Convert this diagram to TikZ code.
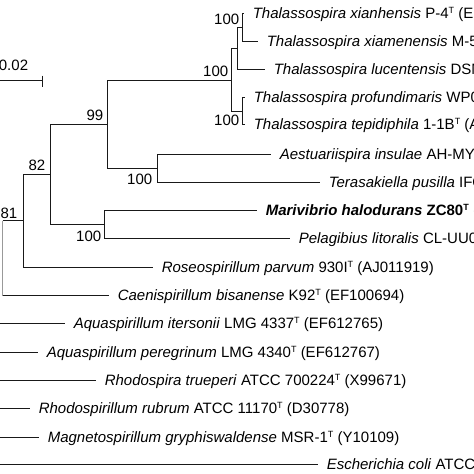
\documentclass[tikz,border=0pt]{standalone}
\usepackage{fontspec}
\setmainfont{Liberation Sans}
\newcommand\supT{\raisebox{5pt}{\fontsize{9}{9}\selectfont T}}
\begin{document}
\begin{tikzpicture}[x=1pt,y=-1pt,line width=1.6pt,
  br/.style={draw=black!90},
  rootbr/.style={draw=black!40},
  leaf/.style={anchor=base west,inner sep=0pt,xshift=8.5pt,yshift=-5.3pt,font=\fontsize{15}{18}\selectfont},
  bs/.style={anchor=base east,inner sep=0pt,font=\fontsize{15}{18}\selectfont}]
\useasboundingbox (0,0) rectangle (474,474);
\clip (0,0) rectangle (474,474);
% leaf ends
\coordinate (l1) at (243.5,13.5);
\coordinate (l2) at (257.5,41.5);
\coordinate (l3) at (264.5,69.5);
\coordinate (l4) at (244.5,97.5);
\coordinate (l5) at (244.5,124.5);
\coordinate (l6) at (270.5,154.5);
\coordinate (l7) at (319.5,182.5);
\coordinate (l8) at (256.5,210.5);
\coordinate (l9) at (289.5,238.5);
\coordinate (l10) at (152.5,267.5);
\coordinate (l11) at (108.5,295.5);
\coordinate (l12) at (64.5,323.5);
\coordinate (l13) at (37.5,352.5);
\coordinate (l14) at (95.5,380.5);
\coordinate (l15) at (29.5,408.5);
\coordinate (l16) at (38.5,437.5);
\coordinate (l17) at (317.5,464.5);
% internal nodes (x of vertical, y of stem)
\coordinate (A) at (242.5,27.5);
\coordinate (B) at (237.5,48.5);
\coordinate (D) at (242.5,111.5);
\coordinate (C) at (231.5,80.5);
\coordinate (E) at (157.5,168.5);
\coordinate (N99) at (107.5,124.5);
\coordinate (F) at (104.5,224.5);
\coordinate (N82) at (50.5,174.5);
\coordinate (N81) at (23.5,220.5);
\coordinate (G) at (2.5,257.5);
\coordinate (R) at (-20.5,400.5);
% brackets
\draw[br] (l1) -| (A) |- (l2);
\draw[br] (A) -| (B) |- (l3);
\draw[br] (l4) -| (D) |- (l5);
\draw[br] (B) -| (C) |- (D);
\draw[br] (l6) -| (E) |- (l7);
\draw[br] (C) -| (N99) |- (E);
\draw[br] (l8) -| (F) |- (l9);
\draw[br] (N99) -| (N82) |- (F);
\draw[br] (N82) -| (N81) |- (l10);
\draw[rootbr] (G |- N81) -- (G |- l11);
\draw[br] (G |- N81) -- (N81);
\draw[br] (G |- l11) -- (l11);
\foreach \i in {12,...,17}{\draw[br] (R |- l\i) -- (l\i);}
% scale bar
\coordinate (sb1) at (-16.5,80.5);
\coordinate (sb2) at (42.5,80.5);
\draw[br] (sb1) -- (sb2);
\draw[br] ([yshift=5pt]sb2) -- ([yshift=-6pt]sb2);
\node[bs,anchor=base] (sbl) at (13.5,70.3) {0.02};
% bootstrap values
\node[bs] (bA) at (240,24.3) {100};
\node[bs] (bC) at (229,76.3) {100};
\node[bs] (bD) at (240,125.3) {100};
\node[bs] (b99) at (104,120.8) {99};
\node[bs] (bE) at (153,184.8) {100};
\node[bs] (b82) at (46,170.8) {82};
\node[bs] (bF) at (102,241.3) {100};
\node[bs] (b81) at (18,218.3) {81};
% leaf labels
\node[leaf] (t1) at (l1) {\textit{Thalassospira xianhensis} P-4\supT{} (EU};
\node[leaf] (t2) at (l2) {\textit{Thalassospira xiamenensis} M-5};
\node[leaf] (t3) at (l3) {\textit{Thalassospira lucentensis} DSM};
\node[leaf] (t4) at (l4) {\textit{Thalassospira profundimaris} WP0};
\node[leaf] (t5) at (l5) {\textit{Thalassospira tepidiphila} 1-1B\supT{} (A};
\node[leaf] (t6) at (l6) {\textit{Aestuariispira insulae} AH-MY};
\node[leaf] (t7) at (l7) {\textit{Terasakiella pusilla} IFO};
\node[leaf] (t8) at (l8) {\textbf{\textit{Marivibrio halodurans} ZC80\supT} (};
\node[leaf] (t9) at (l9) {\textit{Pelagibius litoralis} CL-UU0};
\node[leaf] (t10) at (l10) {\textit{Roseospirillum parvum} 930I\supT{} (AJ011919)};
\node[leaf] (t11) at (l11) {\textit{Caenispirillum bisanense} K92\supT{} (EF100694)};
\node[leaf] (t12) at (l12) {\textit{Aquaspirillum itersonii} LMG 4337\supT{} (EF612765)};
\node[leaf] (t13) at (l13) {\textit{Aquaspirillum peregrinum} LMG 4340\supT{} (EF612767)};
\node[leaf] (t14) at (l14) {\textit{Rhodospira trueperi} ATCC 700224\supT{} (X99671)};
\node[leaf] (t15) at (l15) {\textit{Rhodospirillum rubrum} ATCC 11170\supT{} (D30778)};
\node[leaf] (t16) at (l16) {\textit{Magnetospirillum gryphiswaldense} MSR-1\supT{} (Y10109)};
\node[leaf] (t17) at (l17) {\textit{Escherichia coli} ATCC};
\end{tikzpicture}
\end{document}
